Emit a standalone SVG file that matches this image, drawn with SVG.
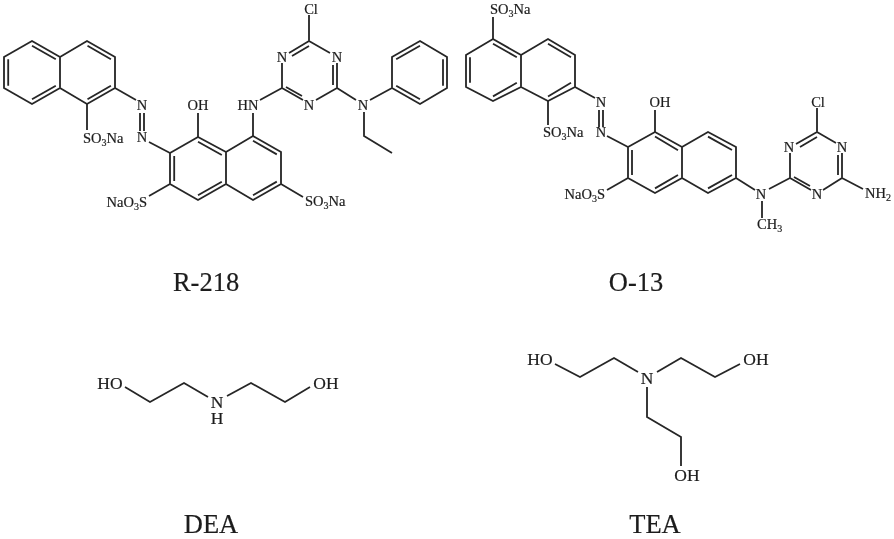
<svg xmlns="http://www.w3.org/2000/svg" width="894" height="539" viewBox="0 0 894 539">
<style>
.b{fill:none;stroke:#262626;stroke-width:1.8;stroke-linejoin:miter;stroke-linecap:butt}
text{font-family:"Liberation Serif","Times New Roman",serif;fill:#1c1c1c;stroke:#1c1c1c;stroke-width:0.2}
.a{font-size:14.5px;text-anchor:middle}
.l{font-size:14.5px}
.e{font-size:14.5px;text-anchor:end}
.t{font-size:17.5px;text-anchor:middle}
.c{font-size:26.5px;text-anchor:middle}
.s{font-size:10px}
</style>
<defs><filter id="soft" x="-2%" y="-2%" width="104%" height="104%"><feGaussianBlur stdDeviation="0.35"/></filter></defs>
<rect width="894" height="539" fill="#fff"/>
<g filter="url(#soft)">
<g id="r218">
<g id="r218-bonds">
<path class="b" d="M32 41L60 57V88L32 104L4 88V57ZM60 57L87 41L115 57V88L87 104L60 88"/>
<path class="b" d="M32 45.7L55.8 59.3M8.2 59.3V85.7M32 99.3L55.8 85.7M87.5 45.7L110.9 59.3M110.9 85.7L87.5 99.3"/>
<path class="b" d="M87 104V130M115 88L136 100M140 113V131M144 113V131M149 142L170 153"/>
<path class="b" d="M170 153L198 137L226 152V184L198 200L170 184ZM226 152L253 136L281 152V184L253 200L226 184"/>
<path class="b" d="M174.2 156V181M198 141.7L221.8 155M198 195.3L221.8 181.7M253 140.8L276.8 154.4M276.8 181.6L253 195.2"/>
<path class="b" d="M198 137V113M170 184L149 196M253 136V113M281 184L303 197M260 100L282 88"/>
<path class="b" d="M330 53L309 41L289 53M282 63V88L303 100M316 100L337 88V63M309 46L292 56M286 87L302 96M333 65V85M309 41V15"/>
<path class="b" d="M337 88L356 100M370 100L392 88V57L420 41L447 57V88L420 104L392 88M396.2 59.3L420 45.7M443 59.3V85.7M396.2 85.7L420 99.3M364 112V136L392 153"/>
</g>
<text class="a" x="142" y="110">N</text>
<text class="a" x="142" y="142">N</text>
<text class="l" x="83" y="143">SO<tspan class="s" dy="3">3</tspan><tspan dy="-3">Na</tspan></text>
<text class="a" x="198" y="110">OH</text>
<text class="e" x="147" y="207">NaO<tspan class="s" dy="3">3</tspan><tspan dy="-3">S</tspan></text>
<text class="a" x="248" y="110">HN</text>
<text class="a" x="311" y="14">Cl</text>
<text class="a" x="282" y="62">N</text>
<text class="a" x="337" y="62">N</text>
<text class="a" x="309" y="110">N</text>
<text class="a" x="363" y="110">N</text>
<text class="l" x="305" y="206">SO<tspan class="s" dy="3">3</tspan><tspan dy="-3">Na</tspan></text>
<text class="c" x="206" y="291">R-218</text>
</g>
<g id="o13">
<g id="o13-bonds">
<path class="b" d="M493 39L521 55V87L493 101L466 87V55ZM521 55L548 39L575 55V87L548 101L521 87"/>
<path class="b" d="M493 43.7L516.8 57.3M470 57.3V82.7M493 96.4L516.8 82.7M548 43.7L571 57.3M571 82.7L548 96.4"/>
<path class="b" d="M493 39V17M548 101V125M575 87L595 98M599 110V127M603 110V127M607 136L628 147"/>
<path class="b" d="M628 147L655 132L682 147V178L655 193L628 178ZM682 147L708 132L736 147V178L708 193L682 178"/>
<path class="b" d="M632 150V175M655 136.6L678 150.3M655 188.4L678 175M708 136.6L732 150M732 175L708 188.4"/>
<path class="b" d="M655 132V110M628 178L607 190M736 178L755 190M769 189L790 178M762 201V218"/>
<path class="b" d="M836 143L817 132L796 144M790 153V178L811 190M823 190L842 178V153M817 137L800 147M794 177L810 186M838 155V175M817 132V108M842 178L863 189"/>
</g>
<text class="l" x="490" y="14">SO<tspan class="s" dy="3">3</tspan><tspan dy="-3">Na</tspan></text>
<text class="l" x="543" y="137">SO<tspan class="s" dy="3">3</tspan><tspan dy="-3">Na</tspan></text>
<text class="a" x="601" y="107">N</text>
<text class="a" x="601" y="137">N</text>
<text class="a" x="660" y="107">OH</text>
<text class="e" x="605" y="199">NaO<tspan class="s" dy="3">3</tspan><tspan dy="-3">S</tspan></text>
<text class="a" x="761" y="199">N</text>
<text class="l" x="757" y="229">CH<tspan class="s" dy="3">3</tspan></text>
<text class="a" x="818" y="107">Cl</text>
<text class="a" x="789" y="152">N</text>
<text class="a" x="842" y="152">N</text>
<text class="a" x="817" y="199">N</text>
<text class="l" x="865" y="198">NH<tspan class="s" dy="3">2</tspan></text>
<text class="c" x="636" y="291">O-13</text>
</g>
<g id="dea">
<path class="b" d="M125 387L150 402L184 383L208 397M227 396L251 383L285 402L310 387"/>
<text class="t" x="110" y="389">HO</text>
<text class="t" x="217" y="408">N<tspan x="217" dy="16">H</tspan></text>
<text class="t" x="326" y="389">OH</text>
<text class="c" x="211" y="533">DEA</text>
</g>
<g id="tea">
<path class="b" d="M555 364L580 377L614 358L638 372M657 372L681 358L715 377L740 364M647 387V417L681 437V466"/>
<text class="t" x="540" y="365">HO</text>
<text class="t" x="647" y="384">N</text>
<text class="t" x="756" y="365">OH</text>
<text class="t" x="687" y="481">OH</text>
<text class="c" x="655" y="533">TEA</text>
</g>
</g>
</svg>
